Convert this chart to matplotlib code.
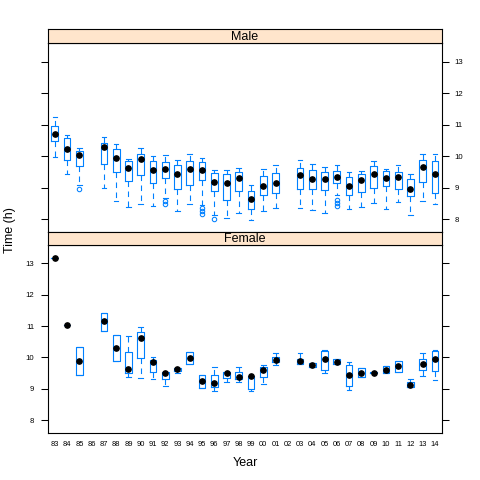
import matplotlib
matplotlib.use('Agg')
import matplotlib.pyplot as plt

plt.rcParams['font.family'] = ['Liberation Sans', 'DejaVu Sans']

years = ['83', '84', '85', '86', '87', '88', '89', '90', '91', '92', '93', '94',
         '95', '96', '97', '98', '99', '00', '01', '02', '03', '04', '05', '06',
         '07', '08', '09', '10', '11', '12', '13', '14']

# Male panel: lower whisker, Q1, median, Q3, upper whisker (None = no data)
male_low = [9.96, 9.43, 9.07, None, 8.98, 8.57, 8.39, 8.47, 8.41, 8.66, 8.26, 8.47,
            8.44, 8.13, 8.03, 8.19, 7.98, 8.26, 8.36, None, 8.36, 8.29, 8.20, 8.77,
            8.33, 8.38, 8.52, 8.33, 8.55, 8.14, 8.58, 8.48]
male_q1 = [10.49, 9.86, 9.67, None, 9.74, 9.48, 9.20, 9.39, 9.14, 9.32, 8.97, 9.09,
           9.23, 8.88, 8.60, 8.88, 8.33, 8.77, 8.83, None, 8.96, 8.96, 8.93, 9.15,
           8.77, 8.87, 8.99, 9.05, 8.96, 8.74, 9.18, 8.83]
male_med = [10.71, 10.23, 10.04, None, 10.29, 9.95, 9.63, 9.92, 9.57, 9.60, 9.44, 9.60,
            9.56, 9.19, 9.13, 9.32, 8.65, 9.06, 9.14, None, 9.41, 9.28, 9.28, 9.33,
            9.04, 9.23, 9.42, 9.29, 9.35, 8.97, 9.64, 9.42]
male_q3 = [10.97, 10.56, 10.15, None, 10.40, 10.24, 9.83, 10.08, 9.83, 9.80, 9.71, 9.83,
           9.80, 9.46, 9.42, 9.48, 8.88, 9.37, 9.47, None, 9.62, 9.56, 9.49, 9.53,
           9.34, 9.44, 9.68, 9.53, 9.49, 9.27, 9.87, 9.84]
male_high = [11.23, 10.68, 10.27, None, 10.62, 10.39, 9.92, 10.26, 9.99, 10.05, 9.86, 10.08,
             9.93, 9.57, 9.55, 9.63, 9.09, 9.59, 9.72, None, 9.87, 9.75, 9.64, 9.72,
             9.51, 9.53, 9.84, 9.59, 9.72, 9.42, 10.07, 10.06]
male_out = {'85': [8.95], '92': [8.58, 8.48], '95': [8.34, 8.25, 8.16],
            '96': [8.01], '06': [8.62, 8.51, 8.40]}

# Female panel
female_low = [13.19, 11.03, 9.43, None, 10.83, 9.90, 9.38, 9.35, 9.32, 9.08, 9.50, 9.78,
              9.02, 8.93, 9.21, 9.21, 8.93, 9.16, 9.76, None, 9.78, 9.70, 9.51, 9.80,
              8.96, 9.37, 9.50, 9.50, 9.53, 9.06, 9.41, 9.29]
female_q1 = [13.19, 11.03, 9.43, None, 10.83, 9.90, 9.51, 9.97, 9.54, 9.31, 9.56, 9.78,
             9.02, 9.05, 9.34, 9.32, 8.98, 9.37, 9.85, None, 9.78, 9.70, 9.59, 9.80,
             9.10, 9.37, 9.50, 9.50, 9.53, 9.06, 9.59, 9.56]
female_med = [13.19, 11.03, 9.90, None, 11.17, 10.31, 9.64, 10.63, 9.87, 9.51, 9.63, 9.99,
              9.26, 9.20, 9.49, 9.39, 9.42, 9.61, 9.93, None, 9.88, 9.77, 9.96, 9.87,
              9.45, 9.52, 9.52, 9.61, 9.74, 9.12, 9.80, 9.96]
female_q3 = [13.19, 11.03, 10.32, None, 11.43, 10.71, 10.17, 10.80, 9.93, 9.55, 9.68, 10.17,
             9.43, 9.43, 9.55, 9.53, 9.42, 9.69, 10.01, None, 9.96, 9.84, 10.22, 9.94,
             9.76, 9.66, 9.54, 9.73, 9.88, 9.22, 9.94, 10.22]
female_high = [13.19, 11.03, 10.32, None, 11.43, 10.71, 10.68, 10.96, 10.00, 9.55, 9.68, 10.17,
               9.43, 9.69, 9.55, 9.69, 9.42, 9.75, 10.13, None, 10.13, 9.84, 10.24, 9.94,
               9.85, 9.66, 9.54, 9.73, 9.88, 9.31, 10.13, 10.24]
female_out = {}

y_ticks = [8, 9, 10, 11, 12, 13]

BLUE = '#0080ff'
STRIP = '#ffe5cc'

fig = plt.figure(figsize=(4.8, 4.8), dpi=100)

left = 47.5 / 480
width = (442.3 - 47.5) / 480


def fy(ypix):
    return 1 - ypix / 480.0


def draw_panel(ax, low, q1, med, q3, high, out):
    stats, pos, meds = [], [], []
    for i, yr in enumerate(years):
        if med[i] is None:
            continue
        stats.append(dict(whislo=low[i], q1=q1[i], med=med[i], q3=q3[i],
                          whishi=high[i], fliers=out.get(yr, [])))
        pos.append(i)
        meds.append(med[i])
    ax.bxp(stats, positions=pos, widths=0.55, capwidths=0.38,
           showfliers=True, manage_ticks=False,
           boxprops=dict(color=BLUE, linewidth=0.8),
           whiskerprops=dict(color=BLUE, linewidth=0.8, linestyle=(0, (5, 4))),
           capprops=dict(color=BLUE, linewidth=0.8),
           medianprops=dict(visible=False),
           flierprops=dict(marker='o', markerfacecolor='none', markeredgecolor=BLUE,
                           markersize=3.2, markeredgewidth=0.75))
    ax.plot(pos, meds, linestyle='none', marker='o', color='black', markersize=3.8,
            zorder=5)
    ax.set_xlim(-0.6, len(years) - 0.4)
    ax.set_ylim(7.6, 13.58)
    ax.set_yticks(y_ticks)
    ax.set_yticklabels([str(t) for t in y_ticks])
    for s in ax.spines.values():
        s.set_linewidth(0.8)


def strip(ax, text):
    ax.set_facecolor(STRIP)
    ax.set_xticks([])
    ax.set_yticks([])
    for s in ax.spines.values():
        s.set_linewidth(0.8)
    ax.text(0.5, 0.45, text, transform=ax.transAxes, ha='center', va='center',
            fontsize=9, color='black')


# Male panel
ax_m = fig.add_axes([left, fy(231.7), width, (231.7 - 43.3) / 480])
draw_panel(ax_m, male_low, male_q1, male_med, male_q3, male_high, male_out)
ax_m.tick_params(axis='y', direction='out', length=5, width=0.75, labelsize=5.6,
                 left=True, right=True, labelleft=False, labelright=True, pad=3.6)
ax_m.tick_params(axis='x', length=0, labelbottom=False)
ax_ms = fig.add_axes([left, fy(43.3), width, (43.3 - 29.3) / 480])
strip(ax_ms, 'Male')

# Female panel
ax_f = fig.add_axes([left, fy(432.7), width, (432.7 - 245.3) / 480])
draw_panel(ax_f, female_low, female_q1, female_med, female_q3, female_high, female_out)
ax_f.set_xticks(range(len(years)))
ax_f.set_xticklabels(years)
ax_f.tick_params(axis='y', direction='out', length=5, width=0.75, labelsize=5.6,
                 left=True, right=True, labelleft=True, labelright=False, pad=4.7)
ax_f.tick_params(axis='x', length=0, labelsize=5.4, pad=5.8)
ax_fs = fig.add_axes([left, fy(245.3), width, (245.3 - 231.7) / 480])
strip(ax_fs, 'Female')

fig.text(0.5 * (47.5 + 442.3) / 480, fy(463.5), 'Year', ha='center', va='center',
         fontsize=9)
fig.text(10 / 480, fy(230), 'Time (h)', ha='center', va='center', rotation=90,
         fontsize=9)

fig.savefig('out.png', dpi=100)
